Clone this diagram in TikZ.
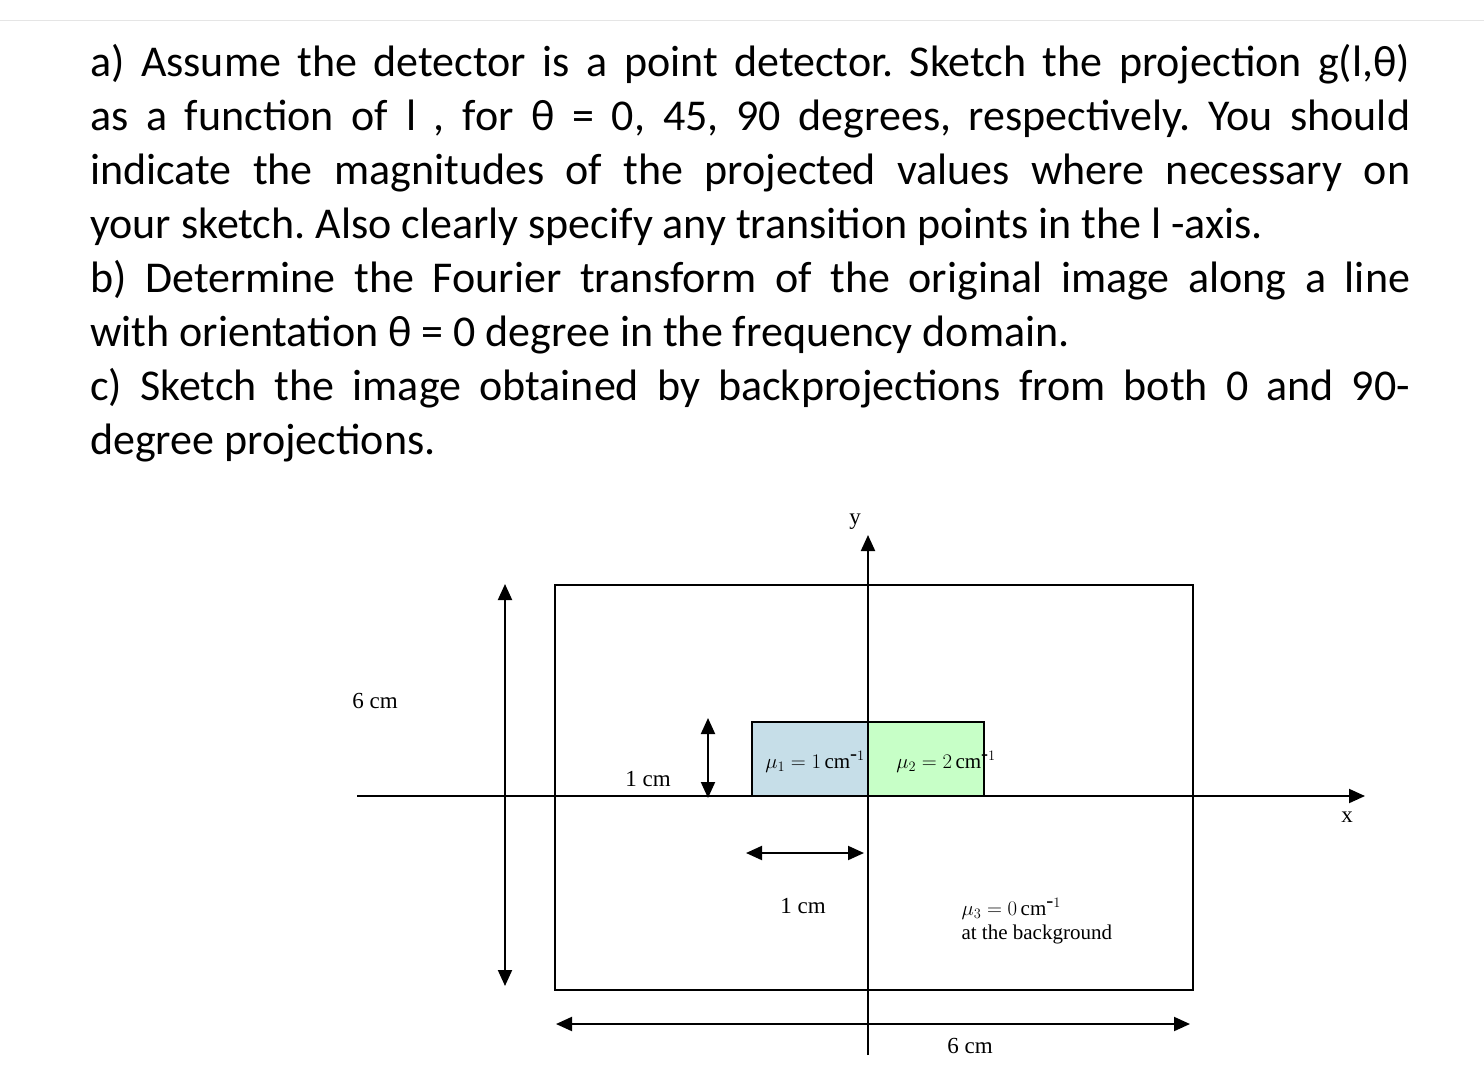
\documentclass[tikz,border=0pt]{standalone}
\usepackage{fontspec}
\setmainfont{Liberation Serif}
\newfontfamily\qfont{Carlito}
\usetikzlibrary{arrows.meta}
\newcommand{\jline}[1]{\makebox[1320pt][s]{#1}}
\begin{document}
\frenchspacing
\begin{tikzpicture}[x=1pt,y=-1pt,
  ln/.style={line width=2pt},
  arr/.style={ln,-{Triangle[length=16pt,width=14pt]}},
  darr/.style={ln,{Triangle[length=16pt,width=14pt]}-{Triangle[length=16pt,width=14pt]}},
  rl/.style={anchor=base west,inner sep=0,font=\qfont\fontsize{44}{54}\selectfont},
  lab/.style={font=\fontsize{23}{25}\selectfont}]
\useasboundingbox (0,0) rectangle (1484,1080);
\draw[gray!20] (0,20) -- (1484,20);
\node[rl] (q1) at (90,76) {\jline{a) Assume the detector is a point detector. Sketch the projection g(l,θ)}};
\node[rl] (q2) at (90,130) {\jline{as a function of l , for θ = 0, 45, 90 degrees, respectively. You should}};
\node[rl] (q3) at (90,184) {\jline{indicate the magnitudes of the projected values where necessary on}};
\node[rl] (q4) at (90,238) {your sketch. Also clearly specify any transition points in the l -axis.};
\node[rl] (q5) at (90,292) {\jline{b) Determine the Fourier transform of the original image along a line}};
\node[rl] (q6) at (90,346) {with orientation θ = 0 degree in the frequency domain.};
\node[rl] (q7) at (90,400) {\jline{c) Sketch the image obtained by backprojections from both 0 and 90-}};
\node[rl] (q8) at (90,454) {degree projections.};
\draw[ln,fill=cyan!25!teal!25!white] (752,722) rectangle (868,796);
\draw[ln,fill=green!22] (868,722) rectangle (984,796);
\draw[ln] (555,585) rectangle (1193,990);
\coordinate (yb) at (868,1055); \coordinate (yt) at (868,535);
\coordinate (xl) at (357,796); \coordinate (xr) at (1365,796);
\draw[arr] (yb) -- (yt);
\draw[arr] (xl) -- (xr);
\node[lab] (ylab) at (855,522) {y};
\node[lab] (xlab) at (1347,817) {x};
\coordinate (a1) at (505,584); \coordinate (a2) at (505,986);
\draw[darr] (a1) -- (a2);
\coordinate (b1) at (708,718); \coordinate (b2) at (708,798);
\draw[darr] (b1) -- (b2);
\coordinate (c1) at (746,853); \coordinate (c2) at (864,853);
\draw[darr] (c1) -- (c2);
\coordinate (d1) at (556,1024); \coordinate (d2) at (1190,1024);
\draw[darr] (d1) -- (d2);
\node[lab] (l6a) at (375,701) {6 cm};
\node[lab] (l1a) at (648,779) {1 cm};
\node[lab] (l1b) at (803,906) {1 cm};
\node[lab] (l6b) at (970,1046) {6 cm};
\node[lab,font=\fontsize{21}{22}\selectfont] (m1) at (815,762) {$\mu_1=1\,\mathrm{cm}^{\mbox{-}1}$};
\node[lab,font=\fontsize{21}{22}\selectfont] (m2) at (946,762) {$\mu_2=2\,\mathrm{cm}^{\mbox{-}1}$};
\node[lab,font=\fontsize{21}{22}\selectfont,anchor=west] (m3) at (958,909) {$\mu_3=0\,\mathrm{cm}^{\mbox{-}1}$};
\node[lab,font=\fontsize{21}{22}\selectfont,anchor=west] (bg) at (958,934) {at the background};
\end{tikzpicture}
\end{document}
